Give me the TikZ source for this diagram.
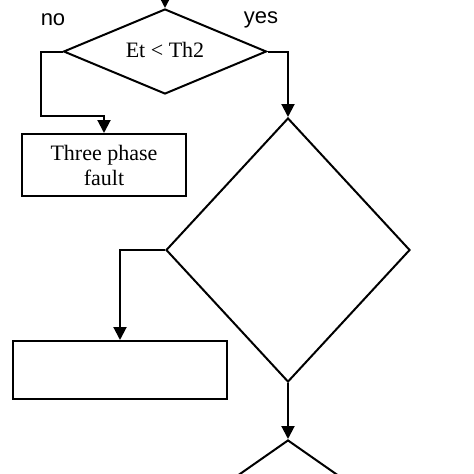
\documentclass[tikz,border=0pt]{standalone}
\usepackage{fontspec}
\setmainfont{Liberation Serif}
\newfontfamily\labelfont{Liberation Sans}
\usetikzlibrary{shapes.geometric,arrows.meta}

\begin{document}
\begin{tikzpicture}[x=1pt,y=-1pt,line width=2pt,
        decision/.style={draw,diamond,inner sep=0pt,font=\fontsize{22}{24}\selectfont},
        process/.style={draw,rectangle,inner sep=0pt,align=center,font=\fontsize{22}{25}\selectfont},
        answer/.style={inner sep=0pt,font=\labelfont\fontsize{22}{24}\selectfont},
        flow/.style={-{Triangle[length=13pt,width=13pt]}}]

    \useasboundingbox (0,0) rectangle (474,474);
    \clip (0,0) rectangle (474,474);

    \coordinate (start) at (165,-20);
    \node[decision,aspect=2.4,minimum width=203pt,minimum height=85pt] (test) at (165,51.5) {\raisebox{3pt}{Et < Th2}};
    \node[process,minimum width=164pt,minimum height=62pt] (fault) at (104,165) {Three phase\\fault};
    \node[decision,minimum width=244pt,minimum height=264pt] (check) at (288,250) {};
    \node[process,minimum width=214pt,minimum height=58pt] (other) at (120,370) {};
    \node[decision,minimum width=200pt,minimum height=140pt] (next) at (288,510) {};

    \node[answer] (no) at (53,20) {no};
    \node[answer] (yes) at (261,20) {yes};

    \draw[flow] (start) -- (test.north);
    \draw[flow] (test.west) -- ++(-22,0) -- ++(0,64) -| (fault.north);
    \draw[flow] (test.east) -| (check.north);
    \draw[flow] (check.west) -| (other.north);
    \draw[flow] (check.south) -- (next.north);
\end{tikzpicture}
\end{document}
